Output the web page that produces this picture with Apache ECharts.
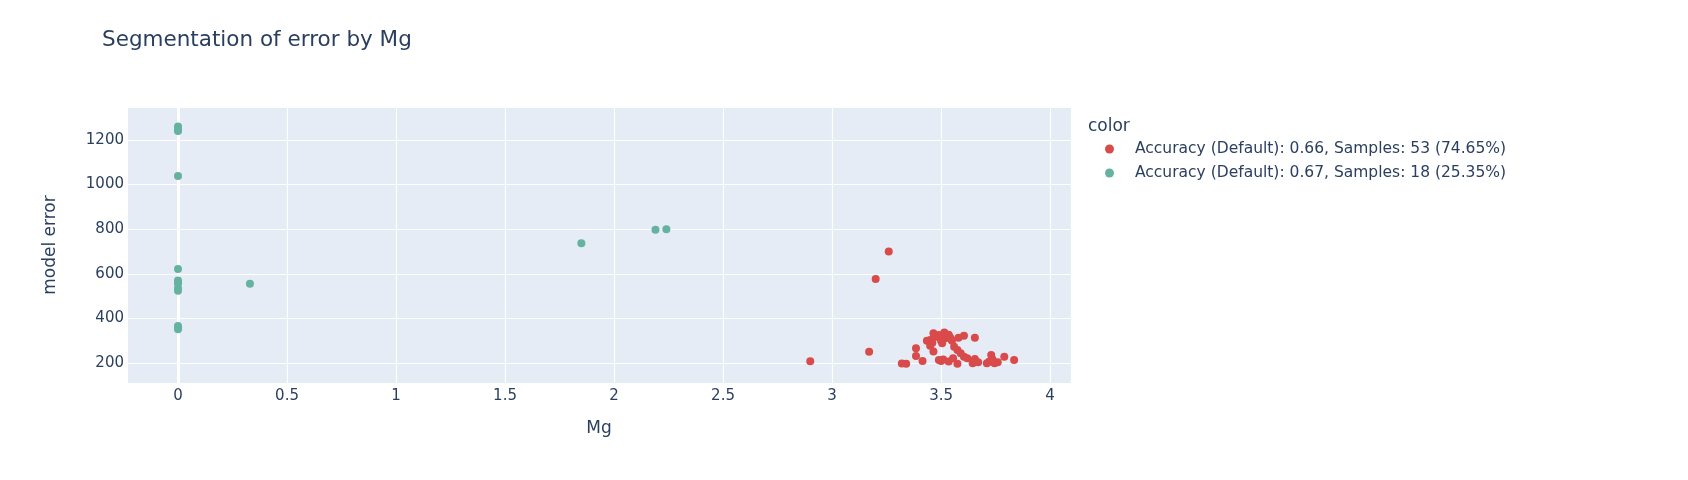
<!DOCTYPE html>
<html>
<head>
<meta charset="utf-8">
<script src="https://cdn.jsdelivr.net/npm/echarts@6/dist/echarts.min.js"></script>
<style>
  html, body { margin: 0; padding: 0; background: #fff; }
  #chart { width: 1688px; height: 480px; }
</style>
</head>
<body>
<div id="chart"></div>
<script>
// segment names (legend)
var seriesNames = [
  'Accuracy (Default): 0.66, Samples: 53 (74.65%)',
  'Accuracy (Default): 0.67, Samples: 18 (25.35%)'
];
// red segment: Mg values and model error
var redMg = [2.90, 3.17, 3.20, 3.26, 3.32, 3.34, 3.385, 3.385, 3.415, 3.435,
  3.45, 3.45, 3.465, 3.465, 3.48, 3.49, 3.50, 3.505, 3.515, 3.52,
  3.535, 3.535, 3.545, 3.555, 3.56, 3.575, 3.575, 3.58, 3.59, 3.605,
  3.605, 3.62, 3.645, 3.655, 3.655, 3.67, 3.71, 3.73, 3.735, 3.745,
  3.76, 3.79, 3.835, 3.47, 3.49, 3.50, 3.52, 3.54, 3.55, 3.46,
  3.72, 3.74, 3.51];
var redErr = [207, 250, 576, 700, 197, 196, 266, 231, 209, 299,
  303, 277, 333, 251, 318, 213, 209, 288, 337, 311,
  326, 206, 308, 221, 273, 258, 196, 313, 243, 228,
  322, 221, 199, 313, 218, 203, 199, 236, 218, 199,
  203, 228, 213, 320, 325, 300, 320, 315, 300, 290,
  205, 205, 215];
// green segment
var greenMg = [0, 0, 0, 0, 0, 0, 0, 0, 0, 0, 0, 0, 0, 0, 0.33, 1.85, 2.19, 2.24];
var greenErr = [1261, 1251, 1240, 1245, 1039, 621, 570, 557, 560, 535, 524, 366, 351, 360, 555, 737, 797, 800];
// axis ticks
var xTicks = [0, 0.5, 1, 1.5, 2, 2.5, 3, 3.5, 4];
var yTicks = [200, 400, 600, 800, 1000, 1200];

var textColor = '#2a3f5f';
var font = 'DejaVu Sans';

function zip(xs, ys) {
  return xs.map(function (x, i) { return [x, ys[i]]; });
}
function onTick(list, v) {
  return list.some(function (t) { return Math.abs(t - v) < 1e-6; });
}

var chart = echarts.init(document.getElementById('chart'), null, { renderer: 'canvas' });
chart.setOption({
  backgroundColor: '#ffffff',
  animation: false,
  title: [
    {
      text: 'Segmentation of error by Mg',
      left: 97, top: 24,
      textStyle: { color: textColor, fontFamily: font, fontSize: 21.5, fontWeight: 'normal' }
    },
    {
      text: 'color',
      left: 1083, top: 113,
      textStyle: { color: textColor, fontFamily: font, fontSize: 17, fontWeight: 'normal' }
    }
  ],
  legend: {
    orient: 'vertical',
    left: 1100, top: 136,
    itemWidth: 9, itemHeight: 9,
    itemGap: 8,
    icon: 'circle',
    textStyle: { color: textColor, fontFamily: font, fontSize: 15.5, lineHeight: 16, padding: [0, 0, 0, 16] },
    data: seriesNames
  },
  grid: { left: 127, top: 107, width: 944, height: 276, backgroundColor: '#E5ECF6', show: true, borderWidth: 0 },
  xAxis: {
    type: 'value',
    min: -0.234, max: 4.096,
    splitNumber: 9,
    name: 'Mg',
    nameLocation: 'middle',
    nameGap: 37,
    nameTextStyle: { color: textColor, fontFamily: font, fontSize: 17 },
    axisLine: { show: false },
    axisTick: { show: false },
    axisLabel: {
      color: textColor, fontFamily: font, fontSize: 15, margin: 6,
      formatter: function (v) { return onTick(xTicks, v) ? String(v) : ''; }
    },
    splitLine: { show: true, lineStyle: { color: '#ffffff', width: 1.2 } }
  },
  yAxis: {
    type: 'value',
    min: 110, max: 1348,
    splitNumber: 5,
    name: 'model error',
    nameLocation: 'middle',
    nameGap: 68,
    nameTextStyle: { color: textColor, fontFamily: font, fontSize: 17 },
    axisLine: { show: false },
    axisTick: { show: false },
    axisLabel: {
      color: textColor, fontFamily: font, fontSize: 15, margin: 3,
      formatter: function (v) { return onTick(yTicks, v) ? String(v) : ''; }
    },
    splitLine: { show: true, lineStyle: { color: '#ffffff', width: 1.2 } }
  },
  series: [
    {
      name: 'zeroline',
      type: 'line',
      data: [],
      silent: true,
      z: 1,
      markLine: {
        silent: true, symbol: ['none', 'none'], label: { show: false },
        lineStyle: { color: '#ffffff', width: 3, type: 'solid', opacity: 1 },
        emphasis: { disabled: true },
        z: 1,
        data: [{ xAxis: 0 }]
      }
    },
    {
      name: seriesNames[0],
      type: 'scatter',
      symbolSize: 8,
      itemStyle: { color: '#d94a4a', opacity: 1 },
      data: zip(redMg, redErr),
      z: 10
    },
    {
      name: seriesNames[1],
      type: 'scatter',
      symbolSize: 8,
      itemStyle: { color: '#66b2a1', opacity: 1 },
      data: zip(greenMg, greenErr),
      z: 10
    }
  ]
});
</script>
</body>
</html>
